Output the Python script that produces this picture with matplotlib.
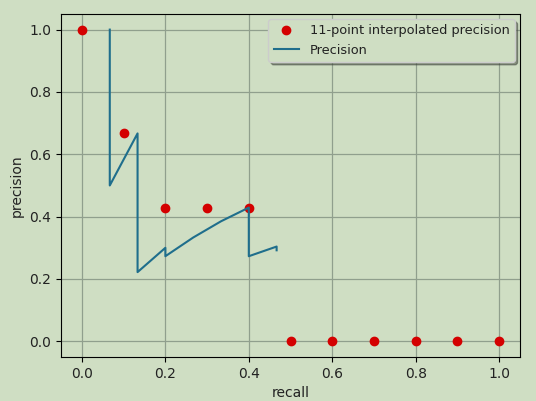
import matplotlib
matplotlib.use('Agg')
from matplotlib import pyplot as plt

# Кривая precision/recall по рангам.
recall = [0.0667, 0.0667, 0.1333, 0.1333, 0.1333, 0.1333, 0.1333, 0.1333, 0.1333,
          0.2, 0.2, 0.2667, 0.3333, 0.4,
          0.4, 0.4, 0.4, 0.4, 0.4, 0.4, 0.4, 0.4,
          0.4667, 0.4667]
precision = [1.0, 0.5, 0.667, 0.5, 0.4, 0.333, 0.286, 0.25, 0.222,
             0.3, 0.273, 0.333, 0.385, 0.429,
             0.4, 0.375, 0.353, 0.333, 0.316, 0.3, 0.286, 0.273,
             0.304, 0.292]

# 11-точечная интерполированная точность.
recall_11 = [0.0, 0.1, 0.2, 0.3, 0.4, 0.5, 0.6, 0.7, 0.8, 0.9, 1.0]
precision_11 = [1.0, 0.667, 0.429, 0.429, 0.429, 0.0, 0.0, 0.0, 0.0, 0.0, 0.0]

bg = '#cfdec3'
txt = '#222222'
plt.rcParams['text.color'] = txt
plt.rcParams['xtick.labelcolor'] = txt
plt.rcParams['ytick.labelcolor'] = txt
plt.rcParams['axes.labelcolor'] = txt

fig = plt.figure(figsize=(5.36, 4.01), dpi=100, facecolor=bg)
ax = fig.add_axes([0.114, 0.110, 0.856, 0.855])
ax.set_facecolor(bg)
ax.plot(recall_11, precision_11, 'o', color='#d40000', label='11-point interpolated precision')
ax.plot(recall, precision, color='#1f6e8c', label='Precision')
ax.grid(True, color='#909f8d', linewidth=0.9)
ax.set_axisbelow(True)
ax.set_xlabel('recall')
ax.set_ylabel('precision')
ax.legend(loc='upper right', shadow=True, facecolor=bg, framealpha=1,
          fontsize=9.3, borderaxespad=0.4)
fig.savefig('out.png', facecolor=bg)
